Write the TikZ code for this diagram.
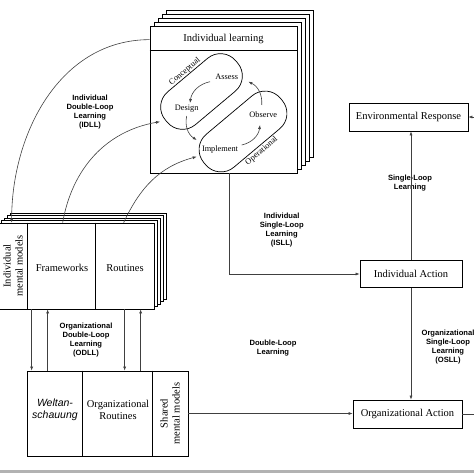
\documentclass[tikz,border=0pt]{standalone}
\usepackage{fontspec}
\setmainfont{Liberation Serif}
\setsansfont{Liberation Sans}
\usetikzlibrary{arrows.meta}

\begin{document}
\begin{tikzpicture}[x=1pt,y=1pt,
    box/.style={draw,line width=0.7pt,fill=white,inner sep=0pt,font=\fontsize{10.5}{12}\selectfont},
    lbl/.style={font=\sffamily\bfseries\fontsize{7.6}{9.3}\selectfont,align=center,inner sep=1pt},
    cyc/.style={draw,line width=0.7pt,rounded corners=20pt,rotate=40,minimum height=43pt,inner sep=0pt},
    small/.style={font=\fontsize{8.3}{9}\selectfont,inner sep=1pt},
    txt/.style={font=\fontsize{10.5}{12}\selectfont,align=center},
    conn/.style={line width=0.6pt,black!75},
    >={Latex[length=4pt,width=3pt]}]
  \useasboundingbox (0,0) rectangle (474,474);
  \clip (0,0) rectangle (474,474);

  % individual learning stack
  \foreach \k in {4,3,2,1}
    \draw[line width=0.7pt,fill=white] (150+4*\k,301+4*\k) rectangle (297+4*\k,448+4*\k);
  \node[box,minimum width=147pt,minimum height=147pt] (indlearn) at (223.5,374.5) {};
  \draw[line width=0.7pt] ([yshift=-25pt]indlearn.north west) -- ([yshift=-25pt]indlearn.north east);
  \node[txt] (indtitle) at (223.5,435.5) {Individual learning};

  \node[cyc,minimum width=92pt] (concept) at (201.5,382.5) {};
  \node[cyc,minimum width=100pt] (operat) at (243,342.5) {};
  \node[small] (assess) at (226.7,397.3) {Assess};
  \node[small] (design) at (186.7,365) {Design};
  \node[small] (observe) at (263.3,359) {Observe};
  \node[small] (implement) at (220,324) {Implement};
  \node[small,rotate=40] (conclbl) at (184.8,402.3) {Conceptual};
  \node[small,rotate=40] (operlbl) at (261.7,323) {Operational};

  % mental models stack
  \foreach \k in {4,3,2,1}
    \draw[line width=0.7pt,fill=white] (-2+3*\k,165+2.4*\k) rectangle (154+3*\k,251+2.4*\k);
  \node[box,minimum width=156pt,minimum height=86pt] (mentbox) at (76,208) {};
  \draw[line width=0.7pt] ([xshift=30pt]mentbox.north west) -- ([xshift=30pt]mentbox.south west);
  \draw[line width=0.7pt] ([xshift=98pt]mentbox.north west) -- ([xshift=98pt]mentbox.south west);
  \node[txt,rotate=90] (indmental) at (13,208) {Individual\\mental models};
  \node[txt] (frames) at (62,206) {Frameworks};
  \node[txt] (routines) at (125,206) {Routines};

  % shared mental models
  \node[box,minimum width=161pt,minimum height=85pt] (orgmodels) at (107.5,60.5) {};
  \draw[line width=0.7pt] ([xshift=56pt]orgmodels.north west) -- ([xshift=56pt]orgmodels.south west);
  \draw[line width=0.7pt] ([xshift=126pt]orgmodels.north west) -- ([xshift=126pt]orgmodels.south west);
  \node[txt,font=\sffamily\itshape\fontsize{10.5}{12}\selectfont] (welt) at (55,64) {Weltan-\\schauung};
  \node[txt] (orgroutines) at (118,64) {Organizational\\Routines};
  \node[txt,rotate=90] (shared) at (170,60.5) {Shared\\mental models};

  % actions
  \node[box,minimum width=119pt,minimum height=28pt] (envresp) at (408.5,357) {Environmental Response};
  \node[box,minimum width=102pt,minimum height=27pt] (indaction) at (411,200) {Individual Action};
  \node[box,minimum width=109pt,minimum height=28pt] (orgaction) at (407.5,60) {Organizational Action};

  \node[lbl] (idll) at (90,362) {Individual\\Double-Loop\\Learning\\(IDLL)};
  \node[lbl] (isll) at (281.7,244) {Individual\\Single-Loop\\Learning\\(ISLL)};
  \node[lbl] (sll) at (410,291) {Single-Loop\\Learning};
  \node[lbl] (odll) at (86,134) {Organizational\\Double-Loop\\Learning\\(ODLL)};
  \node[lbl] (dll) at (273,126) {Double-Loop\\Learning};
  \node[lbl] (osll) at (448,127) {Organizational\\Single-Loop\\Learning\\(OSLL)};

  \begin{scope}[conn,->]
    \draw (210,392.3) to[bend right=35] (190,371);
    \draw (186.7,358) to[bend right=35] (196.7,334);
    \draw (241.7,329) to[bend right=35] (260,349);
    \draw (261.7,369) to[bend right=35] (248.3,392.3);
    \draw ([yshift=-14pt]indlearn.north west) to[out=180,in=90] ([xshift=14pt]mentbox.north west);
    \draw ([xshift=65pt]mentbox.north west) to[out=80,in=190] (160,352.3);
    \draw ([xshift=126pt]mentbox.north west) to[out=65,in=195] (196.7,317.3);
    \draw ([xshift=5.5pt]indlearn.south) |- (indaction.west);
    \draw (indaction.north) -- (indaction.north |- envresp.south);
    \draw (indaction.south) -- (indaction.south |- orgaction.north);
    \draw (orgaction.east) -- ++(20,0) |- (envresp.east);
    \draw (orgmodels.east) -- (orgmodels.east -| orgaction.west);
    \draw ([xshift=34pt]mentbox.south west) -- ([xshift=5pt]orgmodels.north west);
    \draw ([xshift=21pt]orgmodels.north west) -- ([xshift=50pt]mentbox.south west);
    \draw ([xshift=127pt]mentbox.south west) -- ([xshift=98pt]orgmodels.north west);
    \draw ([xshift=114pt]orgmodels.north west) -- ([xshift=143pt]mentbox.south west);
  \end{scope}

  \draw[gray!60,line width=2.5pt] (0,2.5) -- (474,2.5);
\end{tikzpicture}
\end{document}
